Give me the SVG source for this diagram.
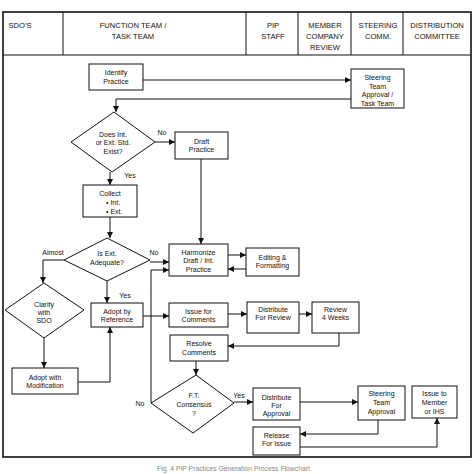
<svg xmlns="http://www.w3.org/2000/svg" width="474" height="474" viewBox="0 0 474 474">
<style>
.n{fill:#fff;stroke:#111;stroke-width:1}
.c{fill:none;stroke:#111;stroke-width:1}
text{font-family:"Liberation Sans",Arial,sans-serif;fill:#111}
.t{font-size:7px;text-anchor:middle}
.h{font-size:7.6px;text-anchor:middle}
</style>
<defs>
<marker id="a" viewBox="0 0 10 10" refX="10" refY="5" markerWidth="7" markerHeight="6" markerUnits="userSpaceOnUse" orient="auto">
<path d="M0,0 L10,5 L0,10 z" fill="#111"/>
</marker>
</defs>
<rect width="474" height="474" fill="#fff"/>
<g id="frame">
<rect x="3" y="12" width="468" height="445" fill="none" stroke="#111" stroke-width="1.6"/>
<line x1="3" y1="55" x2="471" y2="55" stroke="#111" stroke-width="1.2"/>
<line x1="63" y1="12" x2="63" y2="55" stroke="#111"/>
<line x1="246" y1="12" x2="246" y2="55" stroke="#111"/>
<line x1="298" y1="12" x2="298" y2="55" stroke="#111"/>
<line x1="351" y1="12" x2="351" y2="55" stroke="#111"/>
<line x1="403" y1="12" x2="403" y2="55" stroke="#111"/>
<text class="h" x="20" y="28">SDO'S</text>
<text class="h" x="133" y="28">FUNCTION TEAM /</text>
<text class="h" x="133" y="39">TASK TEAM</text>
<text class="h" x="273" y="28">PIP</text>
<text class="h" x="273" y="39">STAFF</text>
<text class="h" x="325" y="28">MEMBER</text>
<text class="h" x="325" y="39">COMPANY</text>
<text class="h" x="325" y="50">REVIEW</text>
<text class="h" x="378" y="28">STEERING</text>
<text class="h" x="378" y="39">COMM.</text>
<text class="h" x="437" y="28">DISTRIBUTION</text>
<text class="h" x="437" y="39">COMMITTEE</text>
</g>
<g id="connectors">
<path class="c" d="M143,80 H351" marker-end="url(#a)"/>
<path class="c" d="M351,99 H116 V112" marker-end="url(#a)"/>
<path class="c" d="M155,142 H175" marker-end="url(#a)"/>
<path class="c" d="M110,172 V185" marker-end="url(#a)"/>
<path class="c" d="M201,159 V244" marker-end="url(#a)"/>
<path class="c" d="M110,217 V238" marker-end="url(#a)"/>
<path class="c" d="M150,262 H169" marker-end="url(#a)"/>
<path class="c" d="M151,403 V270 H169" marker-end="url(#a)"/>
<path class="c" d="M64,260 H43 V283" marker-end="url(#a)"/>
<path class="c" d="M44,338 V368" marker-end="url(#a)"/>
<path class="c" d="M78,382 H110 V327" marker-end="url(#a)"/>
<path class="c" d="M107,281 V303" marker-end="url(#a)"/>
<path class="c" d="M143,316 H169" marker-end="url(#a)"/>
<path class="c" d="M228,255 H246" marker-end="url(#a)"/>
<path class="c" d="M246,269 H228" marker-end="url(#a)"/>
<path class="c" d="M228,314 H247" marker-end="url(#a)"/>
<path class="c" d="M299,314 H312" marker-end="url(#a)"/>
<path class="c" d="M339,333 V346 H228" marker-end="url(#a)"/>
<path class="c" d="M196,361 V375" marker-end="url(#a)"/>
<path class="c" d="M234,402 H253" marker-end="url(#a)"/>
<path class="c" d="M300,402 H358" marker-end="url(#a)"/>
<path class="c" d="M378,420 V434 H300" marker-end="url(#a)"/>
<path class="c" d="M300,447 H437 V418" marker-end="url(#a)"/>
<text class="t" x="162" y="135">No</text>
<text class="t" x="130" y="178">Yes</text>
<text class="t" x="154" y="255">No</text>
<text class="t" x="53" y="255">Almost</text>
<text class="t" x="125" y="298">Yes</text>
<text class="t" x="140" y="406">No</text>
<text class="t" x="239" y="398">Yes</text>
</g>
<g id="identify"><rect class="n" x="89" y="64" width="54" height="26"/>
<text class="t" x="116" y="74.5">Identify</text><text class="t" x="116" y="83.5">Practice</text></g>
<g id="steering-team"><rect class="n" x="351" y="69" width="53" height="39"/>
<text class="t" x="377.5" y="80">Steering</text><text class="t" x="377.5" y="88.5">Team</text><text class="t" x="377.5" y="97">Approval /</text><text class="t" x="377.5" y="105.5">Task Team</text></g>
<g id="does-exist"><polygon class="n" points="114,112 155,142 112,172 71,142"/>
<text class="t" x="113" y="136.5">Does Int.</text><text class="t" x="113" y="145">or Ext. Std.</text><text class="t" x="113" y="154">Exist?</text></g>
<g id="draft"><rect class="n" x="175" y="132" width="53" height="27"/>
<text class="t" x="201.5" y="143.5">Draft</text><text class="t" x="201.5" y="152">Practice</text></g>
<g id="collect"><rect class="n" x="83" y="185" width="54" height="32"/>
<text class="t" x="110" y="195.5">Collect</text>
<text style="font-size:7px" x="106" y="204.5">•  Int.</text>
<text style="font-size:7px" x="106" y="213.5">•  Ext.</text></g>
<g id="is-adequate"><polygon class="n" points="107,238 150,260 107,281 64,260"/>
<text class="t" x="107" y="256">Is Ext.</text><text class="t" x="107" y="265">Adequate?</text></g>
<g id="harmonize"><rect class="n" x="169" y="244" width="59" height="32"/>
<text class="t" x="198.5" y="254.5">Harmonize</text><text class="t" x="198.5" y="263">Draft / Int.</text><text class="t" x="198.5" y="271.5">Practice</text></g>
<g id="editing"><rect class="n" x="246" y="248" width="53" height="28"/>
<text class="t" x="272.5" y="259.5">Editing &amp;</text><text class="t" x="272.5" y="267.5">Formatting</text></g>
<g id="clarify"><polygon class="n" points="44,283 84,310 44,338 5,310"/>
<text class="t" x="44" y="306.5">Clarify</text><text class="t" x="44" y="314.5">with</text><text class="t" x="44" y="322.5">SDO</text></g>
<g id="adopt-mod"><rect class="n" x="12" y="368" width="66" height="26"/>
<text class="t" x="45" y="379.5">Adopt with</text><text class="t" x="45" y="387.5">Modification</text></g>
<g id="adopt-ref"><rect class="n" x="91" y="303" width="52" height="24"/>
<text class="t" x="117" y="313.5">Adopt by</text><text class="t" x="117" y="321.5">Reference</text></g>
<g id="issue-comments"><rect class="n" x="169" y="303" width="59" height="24"/>
<text class="t" x="198.5" y="313.5">Issue for</text><text class="t" x="198.5" y="321.5">Comments</text></g>
<g id="distribute-review"><rect class="n" x="247" y="302" width="52" height="31"/>
<text class="t" x="273" y="311.5">Distribute</text><text class="t" x="273" y="319.5">For Review</text></g>
<g id="review-4w"><rect class="n" x="312" y="302" width="47" height="31"/>
<text class="t" x="335.5" y="311.5">Review</text><text class="t" x="335.5" y="319.5">4 Weeks</text></g>
<g id="resolve"><rect class="n" x="170" y="335" width="58" height="26"/>
<text class="t" x="199" y="345.5">Resolve</text><text class="t" x="199" y="354.5">Comments</text></g>
<g id="consensus"><polygon class="n" points="196,375 234,403 193,433 151,403"/>
<text class="t" x="194" y="397.5">F.T.</text><text class="t" x="194" y="406.5">Consensus</text><text class="t" x="194" y="415.5">?</text></g>
<g id="distribute-approval"><rect class="n" x="253" y="388" width="47" height="32"/>
<text class="t" x="276.5" y="399.5">Distribute</text><text class="t" x="276.5" y="407.5">For</text><text class="t" x="276.5" y="415.5">Approval</text></g>
<g id="steering-approval"><rect class="n" x="358" y="386" width="47" height="34"/>
<text class="t" x="381.5" y="395.5">Steering</text><text class="t" x="381.5" y="404.5">Team</text><text class="t" x="381.5" y="413.5">Approval</text></g>
<g id="issue-member"><rect class="n" x="412" y="386" width="45" height="32"/>
<text class="t" x="434.5" y="395.5">Issue to</text><text class="t" x="434.5" y="404.5">Member</text><text class="t" x="434.5" y="413.5">or IHS</text></g>
<g id="release"><rect class="n" x="253" y="427" width="47" height="28"/>
<text class="t" x="276.5" y="437.5">Release</text><text class="t" x="276.5" y="445.5">For Issue</text></g>
<text x="157" y="471" style="font-size:6.8px;fill:#888">Fig. 4  PIP Practices Generation Process Flowchart</text>
</svg>
